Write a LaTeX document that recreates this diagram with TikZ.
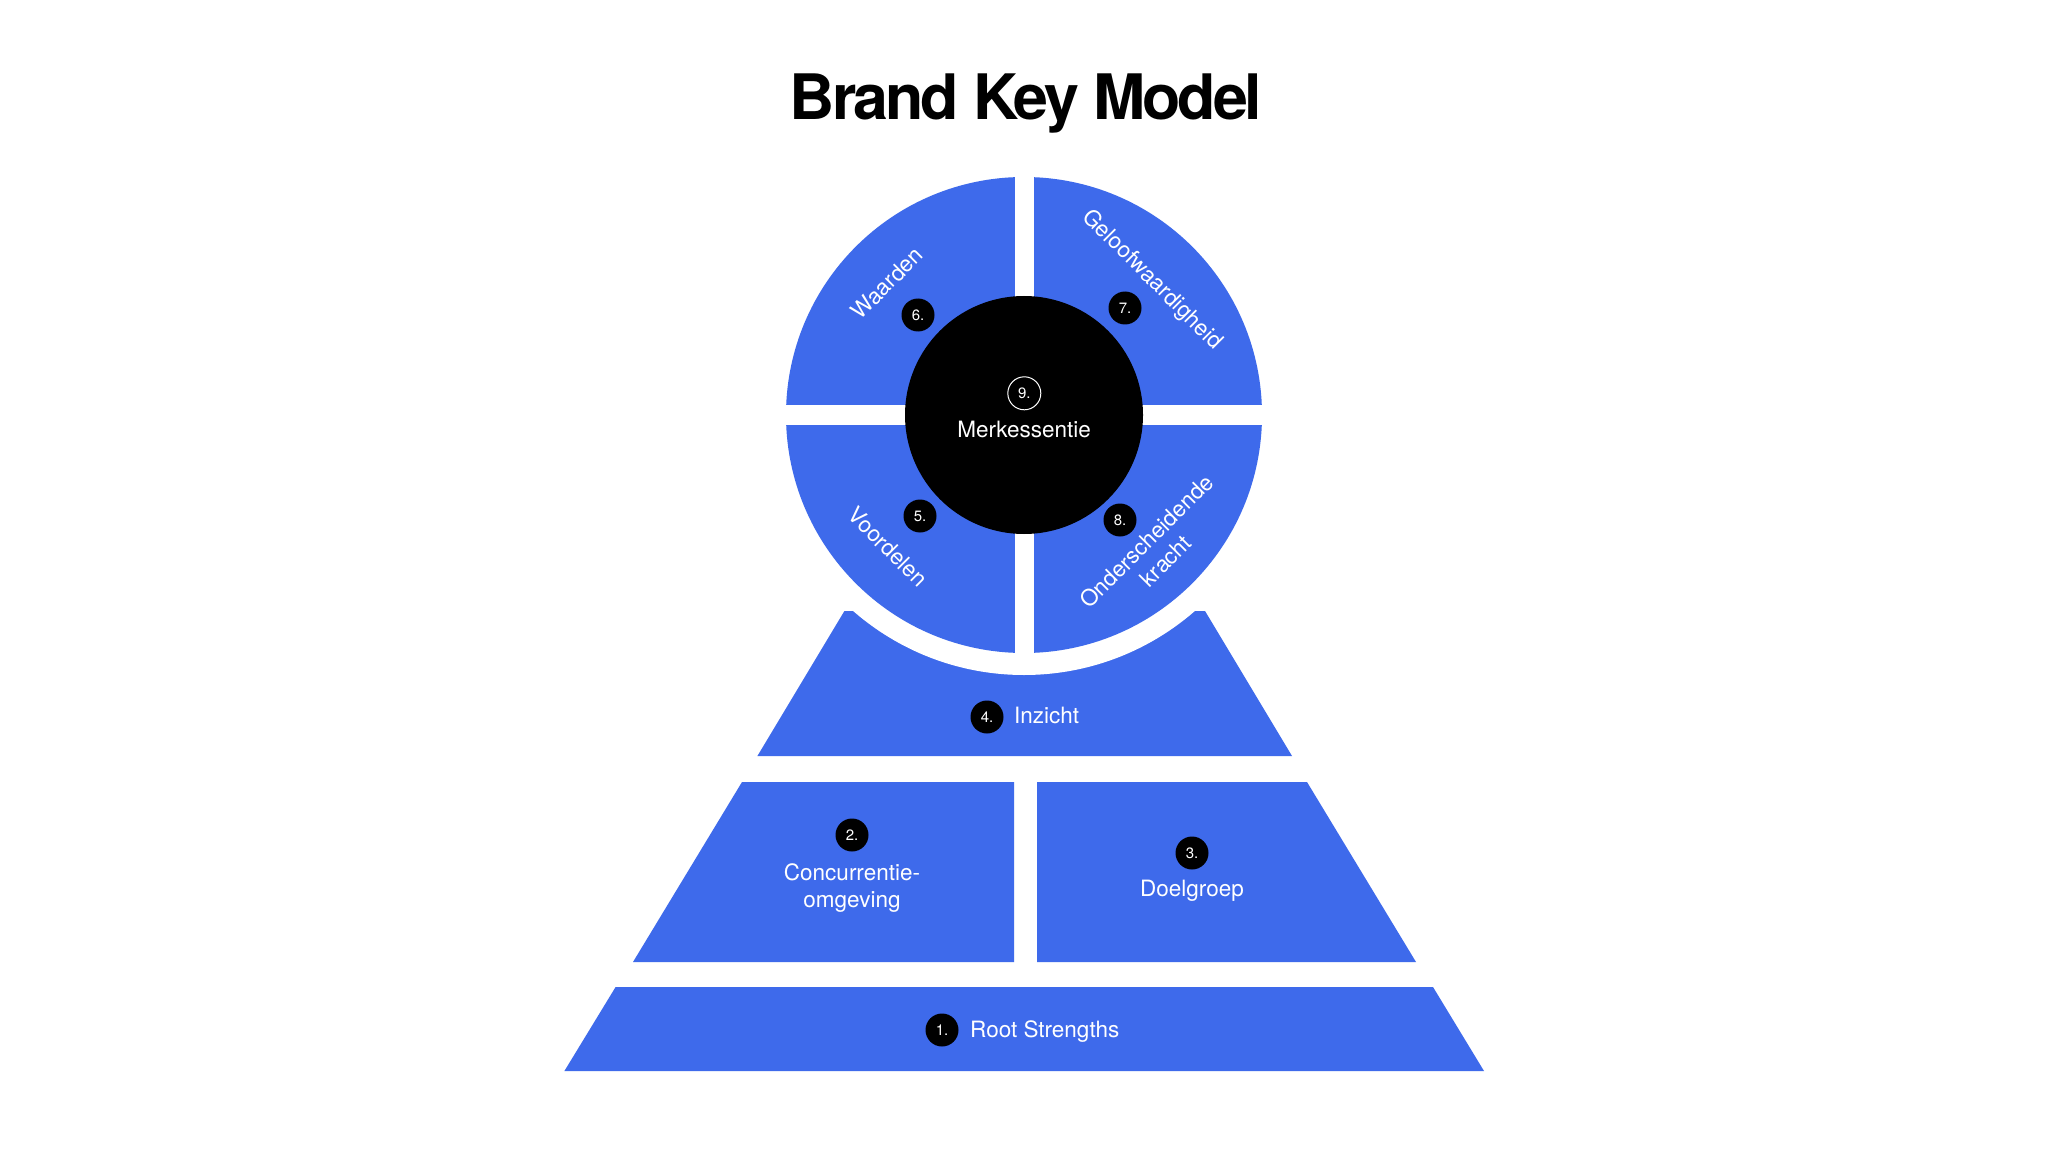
\documentclass[tikz,border=0pt]{standalone}
\usepackage{fontspec}
\setmainfont{TeX Gyre Heros}
\definecolor{bkblue}{HTML}{3E6AEB}
\tikzset{
  blk/.style={fill=bkblue, draw=none},
  num/.style={circle, fill=black, text=white, minimum size=33pt, inner sep=0pt, font=\fontsize{15}{15}\selectfont},
  lbl/.style={text=white, font=\fontsize{22.5}{27.5}\selectfont, inner sep=0pt, align=center},
}
\begin{document}
\begin{tikzpicture}[x=1pt,y=-1pt]
\useasboundingbox[fill=white] (0,0) rectangle (2048,1158);
% title
\node[anchor=base, inner sep=0pt, font=\fontsize{62.7}{62.7}\selectfont\bfseries\addfontfeature{LetterSpace=-5}] (title) at (1026,120) {Brand Key Model};
% level 4
\fill[blk] (757.4,756) -- (844.4,611) -- (1205,611) -- (1292,756) -- cycle;
% ring gap
\fill[white] (1024,415) circle[radius=260];
% circle
\fill[blk] (1024,415) circle[radius=238];
\fill[white] (1014.5,170) rectangle (1033.5,660);
\fill[white] (780,405) rectangle (1268,425);
\fill[black] (1024,415) circle[radius=119];
% level 2 / 3
\fill[blk] (633,962) -- (742,782) -- (1014,782) -- (1014,962) -- cycle;
\fill[blk] (1037,962) -- (1037,782) -- (1307,782) -- (1416,962) -- cycle;
% level 1
\fill[blk] (564.4,1071) -- (615.6,987) -- (1433,987) -- (1484,1071) -- cycle;
% center
\node[num, draw=white, line width=1pt, minimum size=33pt] (n9) at (1024.3,393.3) {9.};
\node[lbl, anchor=base] (merk) at (1024.2,437.3) {Merkessentie};
% quadrants
\node[num] (n6) at (918,315) {6.};
\node[num] (n7) at (1125,308) {7.};
\node[num] (n5) at (920,516) {5.};
\node[num] (n8) at (1120,520) {8.};
\node[lbl, rotate=45] (waarden) at (887,283) {Waarden};
\node[lbl, rotate=-45] (geloof) at (1152,280) {Geloofwaardigheid};
\node[lbl, rotate=-45] (voordelen) at (888,547) {Voordelen};
\node[lbl, rotate=45] (onder) at (1156,551) {Onderscheidende\\kracht};
% level 4 text
\node[num] (n4) at (987,717) {4.};
\node[lbl, anchor=base west] (inzicht) at (1014,723.5) {Inzicht};
% level 2 / 3 text
\node[num] (n2) at (852,835) {2.};
\node[lbl, anchor=base] (conc) at (852,880) {Concurrentie-};
\node[lbl, anchor=base] (omg) at (852,907.7) {omgeving};
\node[num] (n3) at (1192,853) {3.};
\node[lbl, anchor=base] (doel) at (1192,896.7) {Doelgroep};
% level 1 text
\node[num] (n1) at (942,1030) {1.};
\node[lbl, anchor=base west] (root) at (970,1037) {Root Strengths};
\end{tikzpicture}
\end{document}
